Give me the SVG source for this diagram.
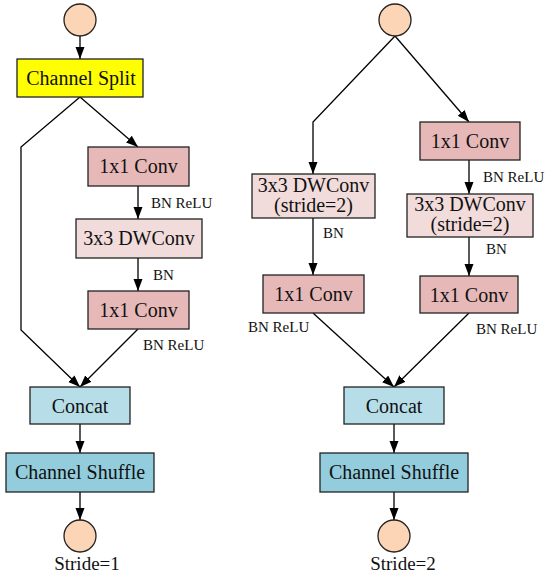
<svg xmlns="http://www.w3.org/2000/svg" width="550" height="579" viewBox="0 0 550 579">
<defs>
<marker id="arr" markerUnits="userSpaceOnUse" markerWidth="12" markerHeight="10" refX="12" refY="4.5" orient="auto">
<path d="M0,0 L12,4.5 L0,9 z" fill="#000"/>
</marker>
<style>
.box{stroke:#222;stroke-width:1.3}
.split{fill:#FFFF00}
.conv{fill:#E6B9B8}
.dw{fill:#F2DCDB}
.cat{fill:#B7DEE8}
.shuf{fill:#93CDDD}
.io{fill:#FBD5B5;stroke:#222;stroke-width:1.3}
.t{font-family:"Liberation Serif","Times New Roman",serif;font-size:20px;fill:#111;text-anchor:middle}
.s{font-family:"Liberation Serif","Times New Roman",serif;font-size:19px;fill:#111;text-anchor:middle}
.l{font-family:"Liberation Serif","Times New Roman",serif;font-size:15px;fill:#111}
.c{fill:none;stroke:#000;stroke-width:1.3}
</style>
</defs>
<rect width="550" height="579" fill="#fff"/>
<g id="connectors">
<line class="c" x1="80" y1="36" x2="80" y2="59" marker-end="url(#arr)"/>
<polyline class="c" points="80,97 21,147 21,330 80,387" marker-end="url(#arr)"/>
<line class="c" x1="80" y1="97" x2="138" y2="147" marker-end="url(#arr)"/>
<line class="c" x1="138" y1="186" x2="138" y2="219" marker-end="url(#arr)"/>
<line class="c" x1="138" y1="258" x2="138" y2="291" marker-end="url(#arr)"/>
<line class="c" x1="138" y1="329" x2="80" y2="387" marker-end="url(#arr)"/>
<line class="c" x1="80" y1="424" x2="80" y2="453" marker-end="url(#arr)"/>
<line class="c" x1="80" y1="492" x2="80" y2="520" marker-end="url(#arr)"/>
<polyline class="c" points="395,36 313,122 313,174" marker-end="url(#arr)"/>
<line class="c" x1="395" y1="36" x2="469" y2="122" marker-end="url(#arr)"/>
<line class="c" x1="469" y1="160" x2="469" y2="194" marker-end="url(#arr)"/>
<line class="c" x1="313" y1="218" x2="313" y2="275" marker-end="url(#arr)"/>
<line class="c" x1="469" y1="237" x2="469" y2="276" marker-end="url(#arr)"/>
<line class="c" x1="313" y1="313" x2="394" y2="387" marker-end="url(#arr)"/>
<line class="c" x1="469" y1="313" x2="394" y2="387" marker-end="url(#arr)"/>
<line class="c" x1="394" y1="424" x2="394" y2="453" marker-end="url(#arr)"/>
<line class="c" x1="394" y1="492" x2="394" y2="520" marker-end="url(#arr)"/>
</g>
<g id="labels">
<text class="l" x="151" y="208">BN ReLU</text>
<text class="l" x="153" y="280">BN</text>
<text class="l" x="143" y="350">BN ReLU</text>
<text class="l" x="483" y="182">BN ReLU</text>
<text class="l" x="323" y="238">BN</text>
<text class="l" x="486" y="254">BN</text>
<text class="l" x="248" y="332">BN ReLU</text>
<text class="l" x="476" y="334">BN ReLU</text>
</g>
<g id="in1"><circle class="io" cx="80" cy="20" r="16"/></g>
<g id="split"><rect class="box split" x="17" y="59" width="126" height="38"/><text class="t" x="81" y="85">Channel Split</text></g>
<g id="conv1a"><rect class="box conv" x="88" y="147" width="101" height="39"/><text class="t" x="138.5" y="173">1x1 Conv</text></g>
<g id="dw1"><rect class="box dw" x="76" y="219" width="126" height="39"/><text class="t" x="139" y="245">3x3 DWConv</text></g>
<g id="conv1b"><rect class="box conv" x="88" y="291" width="101" height="38"/><text class="t" x="138.5" y="317">1x1 Conv</text></g>
<g id="concat1"><rect class="box cat" x="30" y="387" width="100" height="37"/><text class="t" x="80" y="413">Concat</text></g>
<g id="shuffle1"><rect class="box shuf" x="6" y="453" width="148" height="39"/><text class="t" x="80" y="479">Channel Shuffle</text></g>
<g id="out1"><circle class="io" cx="80" cy="536" r="16"/><text class="s" x="87" y="570">Stride=1</text></g>
<g id="in2"><circle class="io" cx="395" cy="20" r="16"/></g>
<g id="dw2a"><rect class="box dw" x="252" y="174" width="123" height="44"/><text class="t" x="313.5" y="192">3x3 DWConv</text><text class="t" x="313.5" y="212">(stride=2)</text></g>
<g id="conv2a"><rect class="box conv" x="420" y="122" width="100" height="38"/><text class="t" x="470" y="148">1x1 Conv</text></g>
<g id="dw2b"><rect class="box dw" x="407" y="194" width="126" height="43"/><text class="t" x="470" y="211">3x3 DWConv</text><text class="t" x="470" y="231">(stride=2)</text></g>
<g id="conv2b"><rect class="box conv" x="263" y="275" width="101" height="38"/><text class="t" x="313.5" y="301">1x1 Conv</text></g>
<g id="conv2c"><rect class="box conv" x="420" y="276" width="98" height="37"/><text class="t" x="469" y="302">1x1 Conv</text></g>
<g id="concat2"><rect class="box cat" x="344" y="387" width="100" height="37"/><text class="t" x="394" y="413">Concat</text></g>
<g id="shuffle2"><rect class="box shuf" x="320" y="453" width="148" height="39"/><text class="t" x="394" y="479">Channel Shuffle</text></g>
<g id="out2"><circle class="io" cx="394" cy="536" r="16"/><text class="s" x="403" y="570">Stride=2</text></g>
</svg>
